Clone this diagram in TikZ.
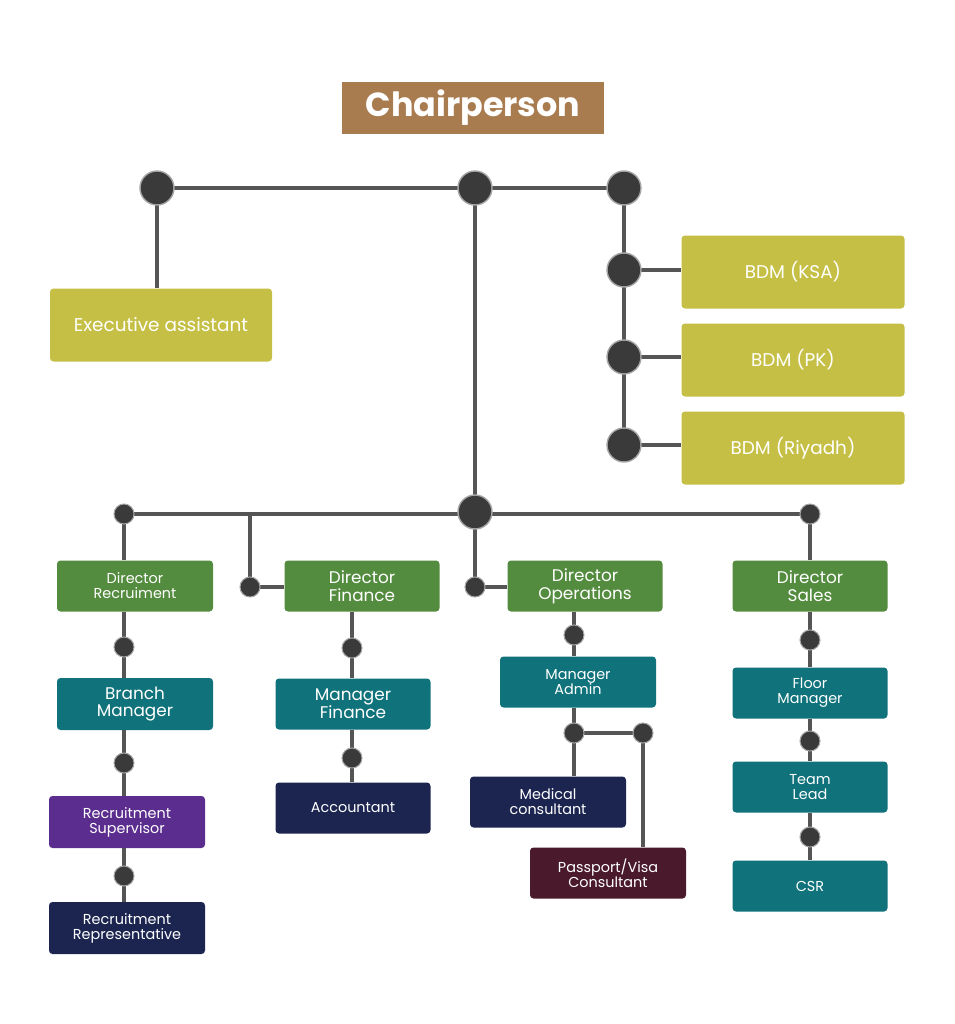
\documentclass[tikz,border=0pt]{standalone}
\usepackage{fontspec}
\setmainfont{Poppins}
\definecolor{brownc}{HTML}{A97C50}
\definecolor{olive}{HTML}{C6BF45}
\definecolor{grn}{HTML}{548C3F}
\definecolor{teal}{HTML}{10727B}
\definecolor{purp}{HTML}{5B2D8E}
\definecolor{navy}{HTML}{1B2550}
\definecolor{maroon}{HTML}{4A1A2C}
\definecolor{ln}{HTML}{555555}
\definecolor{dotc}{HTML}{3A3A3A}
\begin{document}
\begin{tikzpicture}[x=0.02cm,y=-0.02cm,
  box/.style={rounded corners=2pt,text=white,align=center,inner sep=0pt},
  bx/.style args={#1/#2}{box,minimum width=#1*0.02cm,minimum height=#2*0.02cm},
  big/.style={circle,fill=dotc,draw=gray!70,line width=0.8pt,minimum size=34*0.02cm,inner sep=0pt},
  sm/.style={circle,fill=dotc,draw=gray!70,line width=0.6pt,minimum size=20*0.02cm,inner sep=0pt},
  con/.style={ln,line width=2.2pt},
  f1/.style={font=\fontsize{9.6}{10}\selectfont},
  f2/.style={font=\fontsize{8.2}{8.6}\selectfont},
  f3/.style={font=\fontsize{10.5}{11}\selectfont}]
\useasboundingbox (0,0) rectangle (954,1024);
% nodes
\node[box,fill=brownc,minimum width=262*0.02cm,minimum height=51*0.02cm,rounded corners=0pt,font=\bfseries\fontsize{19}{20}\selectfont] (chair) at (473,108) {Chairperson};
\node[bx=222/73,fill=olive,f3] (ea) at (161,325) {Executive assistant};
\node[bx=223/73,fill=olive,f3] (ksa) at (793,272) {BDM (KSA)};
\node[bx=223/73,fill=olive,f3] (pk) at (793,360) {BDM (PK)};
\node[bx=223/73,fill=olive,f3] (riy) at (793,448) {BDM (Riyadh)};
\node[bx=156/51,fill=grn,f2] (dr) at (135,586) {Director\\Recruiment};
\node[bx=155/51,fill=grn,f1] (df) at (362,586) {Director\\Finance};
\node[bx=155/51,fill=grn,f1] (do) at (585,586) {Director\\Operations};
\node[bx=155/51,fill=grn,f1] (ds) at (810,586) {Director\\Sales};
\node[bx=156/52,fill=teal,f1] (bm) at (135,704) {Branch\\Manager};
\node[bx=156/52,fill=purp,f2] (rs) at (127,822) {Recruitment\\Supervisor};
\node[bx=156/52,fill=navy,f2] (rr) at (127,928) {Recruitment\\Representative};
\node[bx=155/51,fill=teal,f1] (mf) at (353,704) {Manager\\Finance};
\node[bx=155/51,fill=navy,f2] (acc) at (353,808) {Accountant};
\node[bx=156/51,fill=teal,f2] (ma) at (578,682) {Manager\\Admin};
\node[bx=156/51,fill=navy,f2] (mc) at (548,802) {Medical\\consultant};
\node[bx=156/51,fill=maroon,f2] (pv) at (608,873) {Passport/Visa\\Consultant};
\node[bx=155/51,fill=teal,f2] (fm) at (810,693) {Floor\\Manager};
\node[bx=155/51,fill=teal,f2] (tl) at (810,787) {Team\\Lead};
\node[bx=155/51,fill=teal,f2] (csr) at (810,886) {CSR};
% junctions
\coordinate (t1) at (157,188); \coordinate (t2) at (475,188); \coordinate (t3) at (624,188);
\coordinate (r1) at (624,270); \coordinate (r2) at (624,357); \coordinate (r3) at (624,445);
\coordinate (c) at (475,512);
\coordinate (h1) at (124,514); \coordinate (h2) at (250,514); \coordinate (h3) at (475,514); \coordinate (h4) at (810,514);
\coordinate (f2) at (250,587); \coordinate (o2) at (475,587);
\coordinate (b1) at (124,647); \coordinate (b2) at (124,763); \coordinate (b3) at (124,876);
\coordinate (m1) at (352,648); \coordinate (m2) at (352,758);
\coordinate (a1) at (574,635); \coordinate (a2) at (574,733); \coordinate (a3) at (643,733);
\coordinate (s1) at (810,640); \coordinate (s2) at (810,741); \coordinate (s3) at (810,837);
% connectors
\draw[con] (t1) -- (t3);
\draw[con] (t1) -- (ea.north -| t1);
\draw[con] (t3) -- (r3);
\draw[con] (r1) -- (ksa.west |- r1);
\draw[con] (r2) -- (pk.west |- r2);
\draw[con] (r3) -- (riy.west |- r3);
\draw[con] (t2) -- (c);
\draw[con] (h1) -- (h4);
\draw[con] (h1) -- (dr.north -| h1);
\draw[con] (h2) -- (f2) -- (df.west |- f2);
\draw[con] (h3) -- (o2) -- (do.west |- o2);
\draw[con] (h4) -- (ds.north);
\draw[con] (dr.south -| b1) -- (bm.north -| b1);
\draw[con] (bm.south -| b2) -- (rs.north -| b2);
\draw[con] (rs.south -| b3) -- (rr.north -| b3);
\draw[con] (df.south -| m1) -- (mf.north -| m1);
\draw[con] (mf.south -| m2) -- (acc.north -| m2);
\draw[con] (do.south -| a1) -- (ma.north -| a1);
\draw[con] (ma.south -| a2) -- (mc.north -| a2);
\draw[con] (a2) -- (a3) -- (pv.north -| a3);
\draw[con] (ds.south) -- (fm.north);
\draw[con] (fm.south) -- (tl.north);
\draw[con] (tl.south) -- (csr.north);
% dots
\foreach \p in {t1,t2,t3,r1,r2,r3,c} \node[big] at (\p) {};
\foreach \p in {h1,h4,f2,o2,b1,b2,b3,m1,m2,a1,a2,a3,s1,s2,s3} \node[sm] at (\p) {};
\end{tikzpicture}
\end{document}
